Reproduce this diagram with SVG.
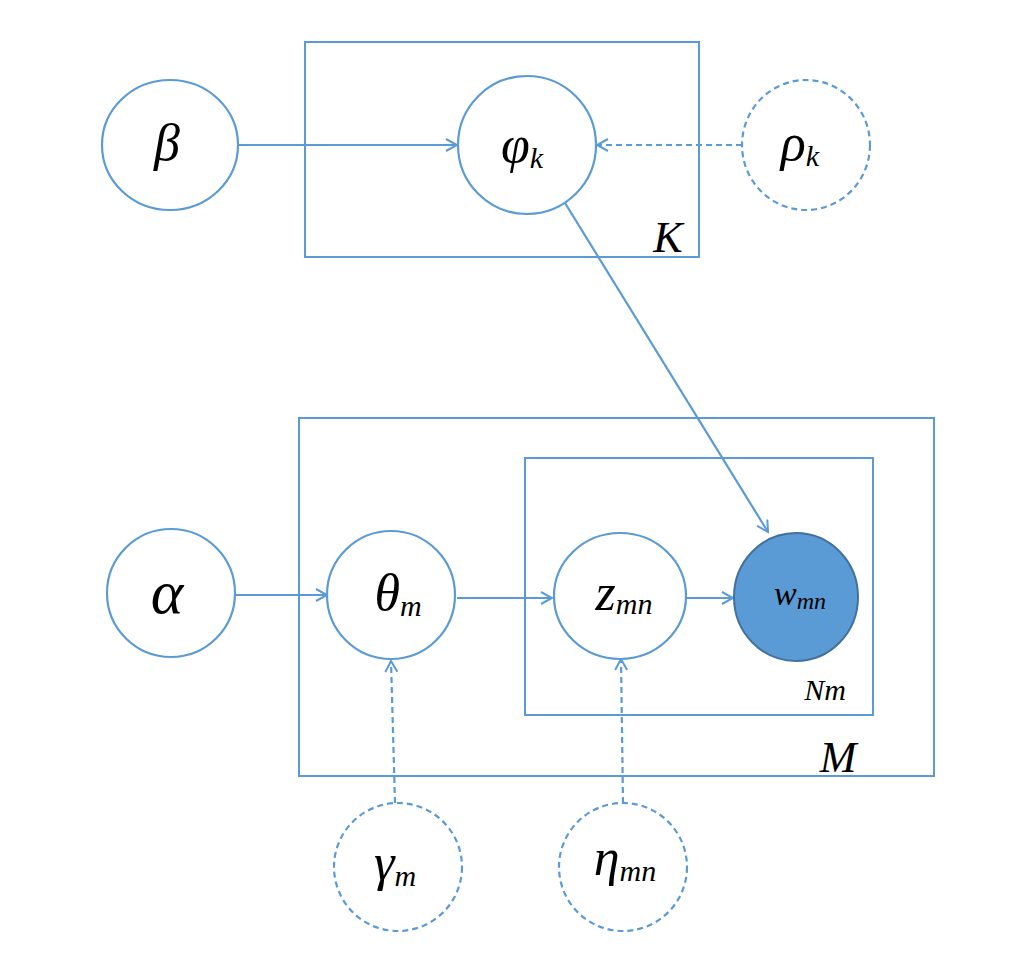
<svg xmlns="http://www.w3.org/2000/svg" width="1034" height="978" viewBox="0 0 1034 978">
<style>
.n{fill:#fff;stroke:#5b9bd5;stroke-width:2.2}
.d{fill:#fff;stroke:#5b9bd5;stroke-width:2.2;stroke-dasharray:6 4}
.p{fill:none;stroke:#5b9bd5;stroke-width:2}
.c{fill:none;stroke:#5b9bd5;stroke-width:2.2;marker-end:url(#a)}
.cd{fill:none;stroke:#5b9bd5;stroke-width:2.2;stroke-dasharray:6 4;marker-end:url(#a)}
text{font-family:"Liberation Serif","DejaVu Serif",serif;font-style:italic;fill:#000;text-anchor:middle}
.b{font-size:52px}.s{font-size:30px}
</style>
<defs><marker id="a" markerWidth="14" markerHeight="14" refX="12" refY="7" orient="auto" markerUnits="userSpaceOnUse"><path d="M1,1 L12,7 L1,13" fill="none" stroke="#5b9bd5" stroke-width="2"/></marker></defs>
<rect width="1034" height="978" fill="#fff"/>
<g id="plates">
<rect class="p" x="305" y="42" width="394" height="215"/>
<text x="668" y="252" style="font-size:44px">K</text>
<rect class="p" x="299" y="418" width="635" height="358"/>
<text x="838" y="772" style="font-size:44px">M</text>
<rect class="p" x="525" y="458" width="348" height="257"/>
<text x="825" y="700" style="font-size:30px">Nm</text>
</g>
<g id="connectors">
<line class="c" x1="239" y1="145" x2="457" y2="145"/>
<line class="cd" x1="742" y1="145" x2="597" y2="145"/>
<line class="c" x1="565" y1="203" x2="768" y2="532"/>
<line class="c" x1="236" y1="595" x2="327" y2="595"/>
<line class="c" x1="457" y1="598" x2="552" y2="598"/>
<line class="c" x1="687" y1="598" x2="733" y2="598"/>
<line class="cd" x1="395" y1="803" x2="391" y2="661"/>
<line class="cd" x1="623" y1="803" x2="621" y2="659"/>
</g>
<g id="beta"><ellipse class="n" cx="170" cy="145" rx="68" ry="65"/><text class="b" x="167" y="160">β</text></g>
<g id="phi"><circle class="n" cx="527" cy="145" r="69"/><text class="b" x="522" y="162">φ<tspan class="s" dy="6">k</tspan></text></g>
<g id="rho"><ellipse class="d" cx="806" cy="145" rx="64" ry="65"/><text class="b" x="800" y="160">ρ<tspan class="s" dy="6">k</tspan></text></g>
<g id="alpha"><ellipse class="n" cx="171" cy="593" rx="64" ry="64"/><text x="167" y="613" style="font-size:62px">α</text></g>
<g id="theta"><ellipse class="n" cx="391" cy="595" rx="64" ry="64"/><text class="b" x="398" y="610">θ<tspan class="s" dy="6">m</tspan></text></g>
<g id="z"><ellipse class="n" cx="620" cy="596" rx="66" ry="63"/><text class="b" x="624" y="610">z<tspan class="s" dy="4">mn</tspan></text></g>
<g id="w"><ellipse cx="796" cy="597" rx="62" ry="64" fill="#5b9bd5" stroke="#41719c" stroke-width="2"/><text x="800" y="605" style="font-size:34px">w<tspan style="font-size:24px" dy="4">mn</tspan></text></g>
<g id="gamma"><ellipse class="d" cx="398" cy="867" rx="64" ry="64"/><text class="b" x="395" y="880">γ<tspan class="s" dy="6">m</tspan></text></g>
<g id="eta"><ellipse class="d" cx="623" cy="867" rx="64" ry="64"/><text class="b" x="625" y="875">η<tspan class="s" dy="6">mn</tspan></text></g>
</svg>
